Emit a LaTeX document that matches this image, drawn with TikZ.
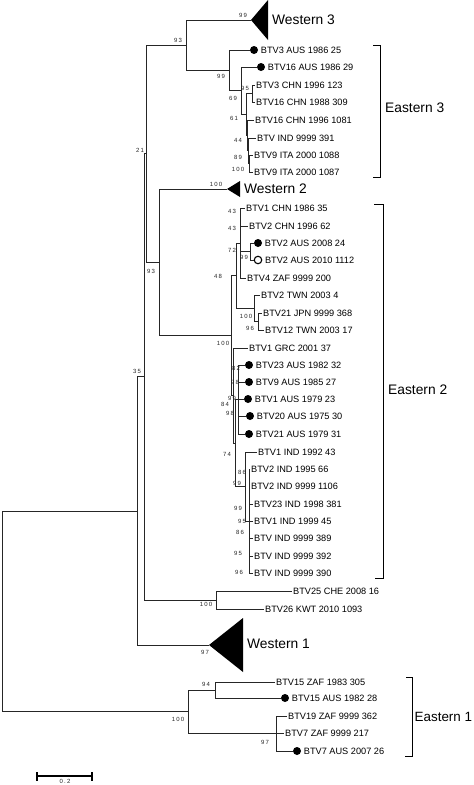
\documentclass[tikz,border=0pt]{standalone}
\usepackage{fontspec}
\setmainfont{Liberation Sans}

\begin{document}
\begin{tikzpicture}[x=1pt,y=-1pt,
    branch/.style={line width=0.85pt, black!85},
    leaf/.style={anchor=west, inner sep=1pt, font=\fontsize{9.2}{10}\selectfont},
    boot/.style={inner sep=0pt, black!85, font=\fontsize{6}{6.5}\selectfont\addfontfeature{LetterSpace=20}},
    clade/.style={anchor=west, inner sep=0pt, font=\fontsize{13.8}{15}\selectfont},
    fdot/.style={circle, fill=black, inner sep=0pt, minimum size=8pt},
    odot/.style={circle, draw=black, line width=1.1pt, fill=white, inner sep=0pt, minimum size=7.5pt},
    bracket/.style={line width=1pt}]
    \useasboundingbox (0,0) rectangle (474,785);

    % Internal nodes
    \coordinate (root) at (2,611.35);
    \coordinate (nA) at (137,510.95);
    \coordinate (n35) at (144,376.9);
    \coordinate (n21) at (146,153.75);
    \coordinate (n93a) at (186,45.2);
    \coordinate (n93b) at (159,262.3);
    % Eastern 3
    \coordinate (e3) at (229,70.35);
    \coordinate (c6) at (241,90.7);
    \coordinate (c5) at (246,114.45);
    \coordinate (c4) at (252,93.5);
    \coordinate (c3) at (247,135.4);
    \coordinate (c2) at (248,150.75);
    \coordinate (c1) at (249,163.5);
    % Eastern 2
    \coordinate (e2) at (231,335.55);
    \coordinate (c11) at (236,275.6);
    \coordinate (c8) at (240,243);
    \coordinate (c7) at (250,251.5);
    \coordinate (c10) at (254,308.25);
    \coordinate (c9) at (258,321.5);
    \coordinate (c16) at (233,395.5);
    \coordinate (c15) at (235,443);
    \coordinate (c12) at (238,399.5);
    \coordinate (c14) at (245,486.5);
    \coordinate (c13) at (249,521);
    \coordinate (c17) at (216,600);
    % Eastern 1
    \coordinate (e1) at (188,711.75);
    \coordinate (c18) at (215,690);
    \coordinate (c19) at (276,733.5);
    % Collapsed clades
    \coordinate (w3) at (251,20);
    \coordinate (w2) at (227,189);
    \coordinate (w1) at (209,645);

    % Leaves without marks
    \foreach \n/\x/\y/\t in {
        3/255/85/BTV3 CHN 1996 123, 4/255/102/BTV16 CHN 1988 309,
        5/254/120/BTV16 CHN 1996 1081, 6/256/138/BTV IND 9999 391,
        7/253/155/BTV9 ITA 2000 1088, 8/253/172/BTV9 ITA 2000 1087,
        9/245/208/BTV1 CHN 1986 35, 10/248/226/BTV2 CHN 1996 62,
        13/246/278/BTV4 ZAF 9999 200, 14/260/295/BTV2 TWN 2003 4,
        15/262/313/BTV21 JPN 9999 368, 16/264/330/BTV12 TWN 2003 17,
        17/248/348/BTV1 GRC 2001 37, 23/257/452/BTV1 IND 1992 43,
        24/250/469/BTV2 IND 1995 66, 25/250/486/BTV2 IND 9999 1106,
        26/253/504/BTV23 IND 1998 381, 27/253/521/BTV1 IND 1999 45,
        28/253/538/BTV IND 9999 389, 29/253/556/BTV IND 9999 392,
        30/253/573/BTV IND 9999 390, 31/292/591/BTV25 CHE 2008 16,
        32/264/609/BTV26 KWT 2010 1093, 33/275/682/BTV15 ZAF 1983 305,
        35/287/716/BTV19 ZAF 9999 362, 36/284/733/BTV7 ZAF 9999 217}
        \node[leaf] (l\n) at (\x,\y) {\t};

    % Leaves with filled dots
    \foreach \n/\x/\y/\t in {
        1/254/50/BTV3 AUS 1986 25, 2/261/67/BTV16 AUS 1986 29,
        11/258/243/BTV2 AUS 2008 24, 18/249/365/BTV23 AUS 1982 32,
        19/249/382/BTV9 AUS 1985 27, 20/248/399/BTV1 AUS 1979 23,
        21/250/416/BTV20 AUS 1975 30, 22/249/434/BTV21 AUS 1979 31,
        34/285/698/BTV15 AUS 1982 28, 37/297/751/BTV7 AUS 2007 26} {
        \node[fdot] (l\n) at (\x,\y) {};
        \node[leaf] (t\n) at ([xshift=1.5pt]l\n.east) {\t};
    }
    % Leaf with open dot
    \node[odot] (l12) at (258,260) {};
    \node[leaf] (t12) at ([xshift=1.5pt]l12.east) {BTV2 AUS 2010 1112};

    % Branches
    \foreach \p/\c in {root/nA, root/e1, nA/n35, nA/w1, n35/n21, n35/c17,
        n21/n93a, n21/n93b, n93a/w3, n93a/e3, n93b/w2, n93b/e2,
        e3/l1.west, e3/c6, c6/l2.west, c6/c5, c5/c4, c5/c3,
        c4/l3.west, c4/l4.west, c3/l5.west, c3/c2, c2/l6.west, c2/c1,
        c1/l7.west, c1/l8.west,
        e2/c11, e2/c16, c11/c8, c11/c10, c8/l9.west, c8/l10.west,
        c8/c7, c8/l13.west, c7/l11.west, c7/l12.west,
        c10/l14.west, c10/c9, c9/l15.west, c9/l16.west,
        c16/l17.west, c16/c15, c15/c12, c15/c14,
        c12/l18.west, c12/l19.west, c12/l20.west, c12/l21.west, c12/l22.west,
        c14/l23.west, c14/c13, c13/l24.west, c13/l25.west, c13/l26.west,
        c13/l27.west, c13/l28.west, c13/l29.west, c13/l30.west,
        c17/l31.west, c17/l32.west,
        e1/c18, e1/c19, c18/l33.west, c18/l34.west,
        c19/l35.west, c19/l36.west, c19/l37.west}
        \draw[branch] (\p) |- (\c);

    % Collapsed clades
    \fill (w3) -- (268,0) -- (268,40) -- cycle;
    \fill (w2) -- (240,181) -- (240,197) -- cycle;
    \fill (w1) -- (243,618) -- (243,672) -- cycle;
    \node[clade] (west3) at (272,20) {Western 3};
    \node[clade] (west2) at (244,189) {Western 2};
    \node[clade] (west1) at (247,644) {Western 1};

    % Brackets
    \draw[bracket] (373,45) -- (380,45) -- (380,177) -- (373,177);
    \draw[bracket] (374,204) -- (383,204) -- (383,578) -- (375,578);
    \draw[bracket] (406,677) -- (412,677) -- (412,756) -- (405,756);
    \node[clade] (east3) at (385,108) {Eastern 3};
    \node[clade] (east2) at (388,390) {Eastern 2};
    \node[clade, font=\fontsize{13.4}{15}\selectfont] (east1) at (414.5,717) {Eastern 1};

    % Bootstrap values
    \foreach \x/\y/\b [count=\i] in {
        178/40/93, 243/15/99, 221/76/99, 233/98/69, 245/88/95, 234/118/61,
        238/140/44, 238/157/89, 238/169/100, 140/150/21, 151/271/93,
        216/184/100, 232/211/43, 232/228/43, 232/250/72, 244/257/99,
        218/276/48, 246/316/100, 250/328/96, 223/343/100, 236/368/82,
        235/382/98, 232/398/99, 225/404/84, 230/413/98, 227/454/74,
        242/472/86, 237/483/99, 238/508/99, 242/521/95, 240/532/86,
        238/553/95, 239/572/96, 137/371/35, 206/604/100, 205/652/97,
        206/684/94, 178/719/100, 265/742/97}
        \node[boot] (b\i) at (\x,\y) {\b};

    % Scale bar
    \coordinate (sb1) at (37,776);
    \coordinate (sb2) at (92,776);
    \draw[line width=1.2pt] (sb1) -- (sb2);
    \draw[line width=1.2pt] ([yshift=-4.5pt]sb1) -- ([yshift=4.5pt]sb1);
    \draw[line width=1.2pt] ([yshift=-4.5pt]sb2) -- ([yshift=4.5pt]sb2);
    \node[boot, anchor=north] (sblabel) at (65,779.5) {0.2};
\end{tikzpicture}
\end{document}
